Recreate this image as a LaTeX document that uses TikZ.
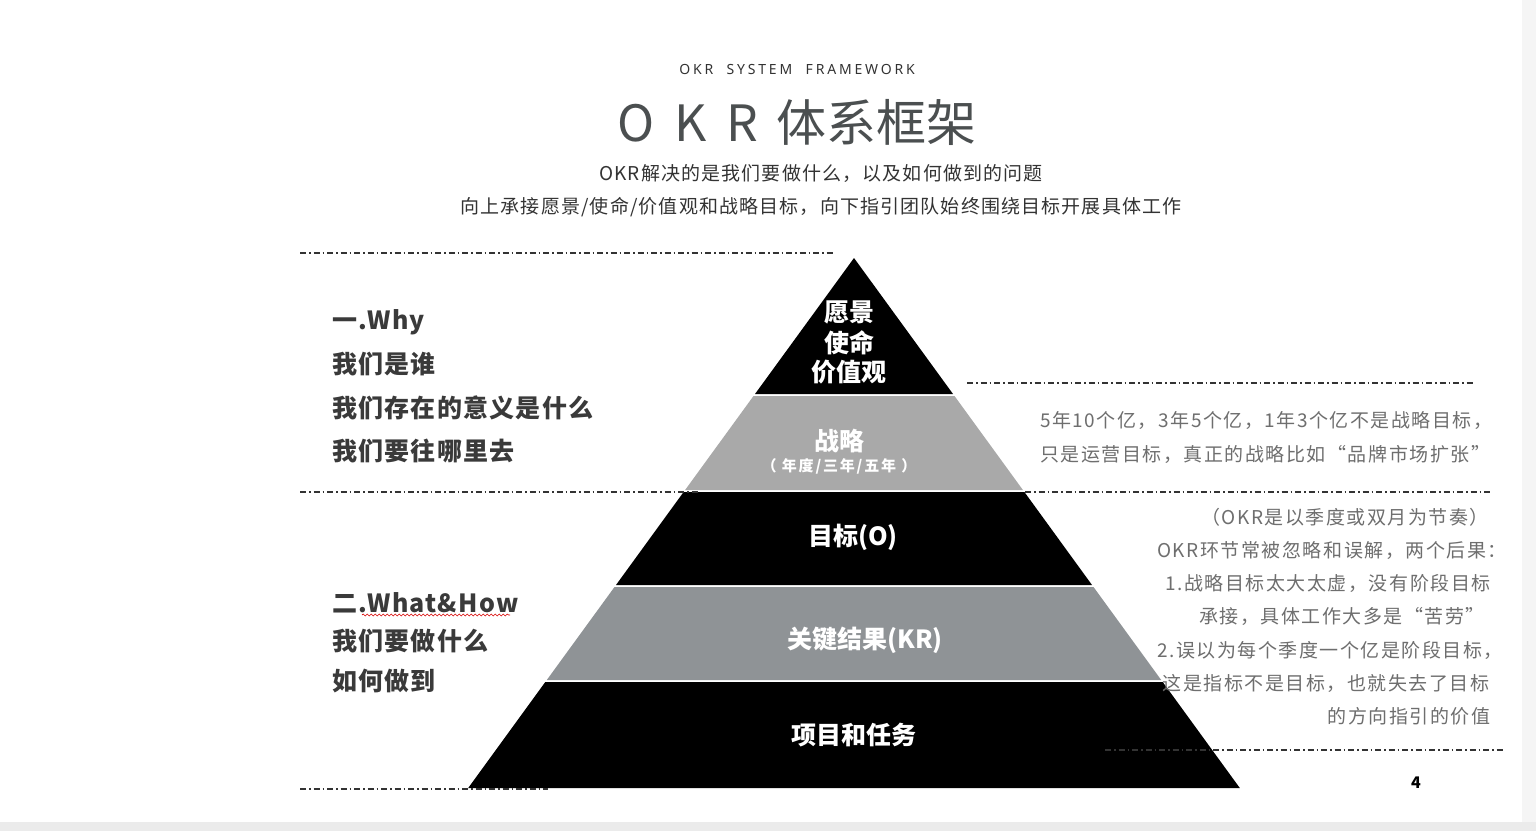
\documentclass[tikz,border=0pt]{standalone}
\usepackage{fontspec}
\setmainfont{Noto Sans CJK SC}
\newfontfamily\cjkls[LetterSpace=6]{Noto Sans CJK SC}
\newfontfamily\cjkrs[LetterSpace=8]{Noto Sans CJK SC}
\newfontfamily\cjkbold[LetterSpace=5]{Noto Sans CJK SC}
\newfontfamily\cjksm[LetterSpace=12]{Noto Sans CJK SC}
\newfontfamily\latinls[LetterSpace=20]{Noto Sans}
\usetikzlibrary{decorations.pathmorphing}
\definecolor{lgray}{HTML}{A9A9A9}
\definecolor{dgray}{HTML}{8F9396}
\definecolor{lefttxt}{HTML}{3A3A3A}
\definecolor{righttxt}{HTML}{6E6E6E}
\definecolor{titletxt}{HTML}{4B4F50}
\definecolor{linecol}{HTML}{333333}
\tikzset{
  dashdot line/.style={draw=linecol, line width=1.2pt, dash pattern=on 6pt off 3pt on 1.5pt off 3pt},
  lefttext/.style={anchor=west, inner sep=0pt, text=lefttxt, font=\cjkbold\bfseries\fontsize{25}{30}\selectfont},
  pyrtext/.style={inner sep=0pt, text=white, font=\bfseries\fontsize{25}{30}\selectfont, align=center},
  righttext/.style={inner sep=0pt, text=righttxt, font=\cjkrs\fontsize{19}{24}\selectfont},
}
\begin{document}
\begin{tikzpicture}[x=1pt,y=-1pt]
\useasboundingbox (0,0) rectangle (1536,831);
\fill[white] (0,0) rectangle (1536,831);
\fill[black!8] (0,822) rectangle (1536,831);
\fill[black!4] (1522,0) rectangle (1536,822);

% header
\node[inner sep=0pt, text=linecol, font=\latinls\fontsize{14}{16}\selectfont] (hdr) at (797,69) {OKR\hspace{7pt} SYSTEM\hspace{7pt} FRAMEWORK};
\node[inner sep=0pt, text=titletxt, font=\fontsize{50}{56}\selectfont] (title) at (797,122) {O\hspace{20pt}K\hspace{20pt}R\hspace{18pt}体系框架};
\node[inner sep=0pt, text=linecol, font=\cjkls\fontsize{19}{24}\selectfont] (sub1) at (821,173) {OKR解决的是我们要做什么，以及如何做到的问题};
\node[inner sep=0pt, text=linecol, font=\cjkls\fontsize{19}{24}\selectfont] (sub2) at (821,207) {向上承接愿景/使命/价值观和战略目标，向下指引团队始终围绕目标开展具体工作};

% pyramid
\fill[black] (854,258) -- (953,394) -- (755,394) -- cycle;
\fill[lgray] (753.5,396) -- (954.5,396) -- (1022.9,490) -- (685.1,490) -- cycle;
\fill[black] (683.6,492) -- (1024.4,492) -- (1092,585) -- (616,585) -- cycle;
\fill[dgray] (614.5,587) -- (1093.5,587) -- (1161.2,680) -- (546.8,680) -- cycle;
\fill[black] (545.3,682) -- (1162.7,682) -- (1239.8,788) -- (468.2,788) -- cycle;

\node[pyrtext] (p1a) at (849,312) {愿景};
\node[pyrtext] (p1b) at (849,343) {使命};
\node[pyrtext] (p1c) at (849,372) {价值观};
\node[pyrtext] (p2) at (839,441) {战略};
\node[pyrtext, font=\cjksm\bfseries\fontsize{15}{17}\selectfont] (p2s) at (839,466) {（ 年度/三年/五年 ）};
\node[pyrtext] (p3) at (853,537) {目标(O)};
\node[pyrtext] (p4) at (865,640) {关键结果(KR)};
\node[pyrtext] (p5) at (854,735) {项目和任务};

% dash-dot lines
\coordinate (d1a) at (300,253); \coordinate (d1b) at (835,253);
\coordinate (d2a) at (967,383); \coordinate (d2b) at (1475,383);
\coordinate (d3a) at (300,492); \coordinate (d3b) at (700,492);
\coordinate (d4a) at (1025,492); \coordinate (d4b) at (1492,492);
\coordinate (d5a) at (1105,750); \coordinate (d5b) at (1505,750);
\coordinate (d6a) at (300,789); \coordinate (d6b) at (548,789);
\draw[dashdot line] (d1a) -- (d1b);
\draw[dashdot line] (d2a) -- (d2b);
\draw[dashdot line] (d3a) -- (d3b);
\draw[dashdot line] (d4a) -- (d4b);
\draw[dashdot line] (d5a) -- (d5b);
\draw[dashdot line] (d6a) -- (d6b);

% left texts
\node[lefttext] (w0) at (332,322) {一.Why};
\node[lefttext] (w1) at (332,364) {我们是谁};
\node[lefttext] (w2) at (332,408) {我们存在的意义是什么};
\node[lefttext] (w3) at (332,451) {我们要往哪里去};
\node[lefttext] (h0) at (332,603) {二.What\&How};
\node[lefttext] (h1) at (332,641) {我们要做什么};
\node[lefttext] (h2) at (332,681) {如何做到};
\coordinate (wv1) at (362,615); \coordinate (wv2) at (510,615);
\draw[red!85!black, line width=0.6pt, decorate, decoration={snake, amplitude=1pt, segment length=4pt}] (wv1) -- (wv2);

% right texts
\node[righttext, anchor=west] (r1) at (1040,420) {5年10个亿，3年5个亿，1年3个亿不是战略目标，};
\node[righttext, anchor=west] (r2) at (1040,454) {只是运营目标，真正的战略比如“品牌市场扩张”};

\node[righttext] (s1) at (1345,517) {（OKR是以季度或双月为节奏）};
\node[righttext] (s2) at (1332,550) {OKR环节常被忽略和误解，两个后果：};
\node[righttext] (s3) at (1328,583) {1.战略目标太大太虚，没有阶段目标};
\node[righttext] (s4) at (1342,616) {承接，具体工作大多是“苦劳”};
\node[righttext] (s5) at (1330,650) {2.误以为每个季度一个亿是阶段目标，};
\node[righttext] (s6) at (1326,683) {这是指标不是目标，也就失去了目标};
\node[righttext] (s7) at (1409,716) {的方向指引的价值};

\node[inner sep=0pt, font=\bfseries\fontsize{16}{18}\selectfont] (pg) at (1416,783) {4};
\end{tikzpicture}
\end{document}
